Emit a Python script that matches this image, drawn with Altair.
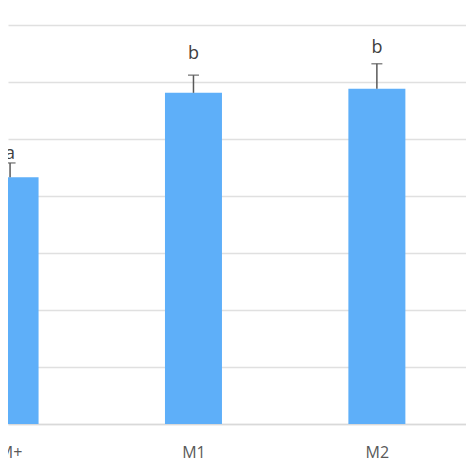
import altair as alt
import pandas as pd

categories = ["M+", "M1", "M2"]
positions = [0, 1, 2]
means = [43.3, 58.1, 58.8]
errors = [2.5, 3.1, 4.4]
letters = ["a", "b", "b"]
letter_y = [47.4, 64.9, 66.0]

df = pd.DataFrame({
    "cat": categories,
    "pos": positions,
    "mean": means,
    "top": [m + e for m, e in zip(means, errors)],
    "letter": letters,
    "ly": letter_y,
})

W = 458
xscale = alt.Scale(domain=[0.016, 0.016 + W / 187.5], nice=False, zero=False)
yscale = alt.Scale(domain=[0, 416 / 5.7], nice=False)

label_expr = "datum.value == 0 ? 'M+' : datum.value == 1 ? 'M1' : 'M2'"

x = alt.X("pos:Q", scale=xscale,
          axis=alt.Axis(values=[0, 1, 2], labelExpr=label_expr, title=None,
                        grid=False, ticks=False, domain=True, domainColor="#d9d9d9",
                        domainWidth=1.5, labelFont="Open Sans", labelFontSize=16,
                        labelColor="#595959", labelPadding=20, labelFlush=False,
                        labelOverlap=False, labelBound=False))
y = alt.Y("mean:Q", scale=yscale,
          axis=alt.Axis(values=[0, 10, 20, 30, 40, 50, 60, 70], title=None,
                        labels=False, ticks=False, domain=False,
                        grid=True, gridColor="#e0e0e0", gridWidth=1.5))

base = alt.Chart(df)

bars = base.mark_bar(size=57, color="#5eaff9", clip=True).encode(x=x, y=y)

err = base.mark_rule(color="#595959", strokeWidth=1.5, clip=True).encode(
    x=alt.X("pos:Q", scale=xscale), y=alt.Y("mean:Q", scale=yscale), y2="top:Q")

cap = base.mark_tick(color="#595959", thickness=1.5, size=11, orient="horizontal", clip=True).encode(
    x=alt.X("pos:Q", scale=xscale), y=alt.Y("top:Q", scale=yscale))

txt = base.mark_text(font="Open Sans", fontSize=18, color="#404040", baseline="middle").encode(
    x=alt.X("pos:Q", scale=xscale), y=alt.Y("ly:Q", scale=yscale), text="letter:N")

chart = alt.layer(bars, err, cap, txt).properties(
    width=W, height=416,
    autosize=alt.AutoSizeParams(type="none"),
    padding={"left": 0, "top": 0, "right": 0, "bottom": 38},
).configure_view(stroke=None)

chart.save("out.html", embed_options={"renderer": "svg", "actions": False})
